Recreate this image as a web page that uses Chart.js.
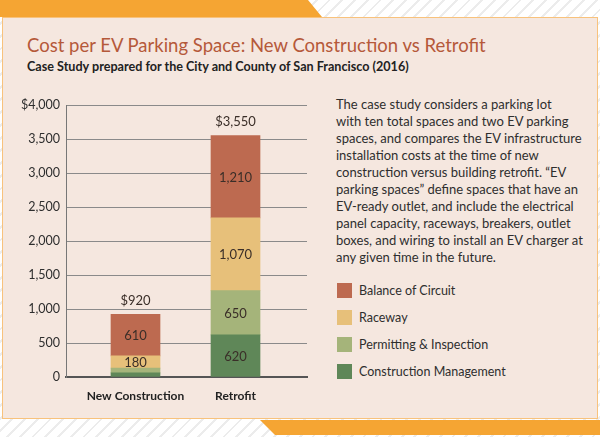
<!DOCTYPE html>
<html>
<head>
<meta charset="utf-8">
<script src="https://cdn.jsdelivr.net/npm/chart.js@4.4.1/dist/chart.umd.min.js"></script>
<style>
  html, body { margin: 0; padding: 0; }
  body { width: 600px; height: 437px; overflow: hidden; font-family: Lato, "Noto Sans", sans-serif; }
  #page {
    position: relative; width: 600px; height: 437px;
    background: repeating-linear-gradient(135deg, #ffffff 0px, #ffffff 7px, #ececec 7px, #ececec 9px);
  }
  .tab-top {
    position: absolute; left: 0; top: 0; width: 322px; height: 17px; background: #f5a533;
    clip-path: polygon(0 0, 308px 0, 322px 100%, 0 100%);
  }
  .tab-bottom {
    position: absolute; left: 260px; top: 420px; width: 340px; height: 15px; background: #f5a533;
    clip-path: polygon(0 0, 100% 0, 100% 100%, 15px 100%);
  }
  .panel {
    position: absolute; left: 2px; top: 17px; width: 596px; height: 402px; box-sizing: border-box;
    background: #f5e7df; border: 1.5px solid #f8c27c;
  }
  .title {
    position: absolute; left: 27px; top: 34px; font-size: 18.5px; color: #b5593a; white-space: nowrap;
  }
  .subtitle {
    position: absolute; left: 27px; top: 59px; font-size: 12.6px; font-weight: bold; color: #222; white-space: nowrap;
  }
  .note {
    position: absolute; left: 336px; top: 96px; font-size: 13px; line-height: 17px; color: #2e2e2e; white-space: nowrap;
  }
  #legend { position: absolute; left: 337px; top: 283px; margin: 0; padding: 0; list-style: none; }
  #legend li { display: flex; align-items: center; height: 15px; margin-bottom: 12px; font-size: 12.5px; color: #2e2e2e; }
  #legend span.box { width: 15px; height: 15px; margin-right: 7px; }
  .chart-box { position: absolute; left: 0; top: 90px; width: 310px; height: 330px; }
</style>
</head>
<body>
<div id="page">
  <div class="tab-top"></div>
  <div class="tab-bottom"></div>
  <div class="panel"></div>
  <div class="title">Cost per EV Parking Space: New Construction vs Retrofit</div>
  <div class="subtitle">Case Study prepared for the City and County of San Francisco (2016)</div>
  <div class="note">
    The case study considers a parking lot<br>
    with ten total spaces and two EV parking<br>
    spaces, and compares the EV infrastructure<br>
    installation costs at the time of new<br>
    construction versus building retrofit. “EV<br>
    parking spaces” define spaces that have an<br>
    EV-ready outlet, and include the electrical<br>
    panel capacity, raceways, breakers, outlet<br>
    boxes, and wiring to install an EV charger at<br>
    any given time in the future.
  </div>
  <ul id="legend"></ul>
  <div class="chart-box"><canvas id="costChart" width="310" height="330"></canvas></div>
</div>

<script>
// data
var categories = ['New Construction', 'Retrofit'];
var constructionMgmt = [60, 620];
var permitting = [70, 650];
var raceway = [180, 1070];
var balanceOfCircuit = [610, 1210];
var yTickMax = 4000;
var yTickStep = 500;

function points(values) {
    return values.map(function (v, i) { return { x: i, y: v }; });
}

function fmt(v) {
    return v.toLocaleString('en-US');
}

// numbers inside the segments and totals on top
var barLabels = {
    id: 'barLabels',
    afterDatasetsDraw: function (chart) {
        var ctx = chart.ctx;
        ctx.save();
        ctx.font = '13px Lato, "Noto Sans", sans-serif';
        ctx.fillStyle = '#3a2e28';
        ctx.textAlign = 'center';
        ctx.textBaseline = 'middle';
        chart.data.datasets.forEach(function (ds, i) {
            var meta = chart.getDatasetMeta(i);
            meta.data.forEach(function (el, j) {
                var v = ds.data[j].y;
                if (v < 100) return;
                ctx.fillText(fmt(v), el.x, (el.y + el.base) / 2 + 1);
            });
        });
        categories.forEach(function (c, j) {
            var total = constructionMgmt[j] + permitting[j] + raceway[j] + balanceOfCircuit[j];
            var el = chart.getDatasetMeta(0).data[j];
            var top = chart.scales.y.getPixelForValue(total);
            ctx.fillText('$' + fmt(total), el.x, top - 14);
        });
        ctx.restore();
    }
};

var ctx = document.getElementById('costChart').getContext('2d');
var costChart = new Chart(ctx, {
    type: 'bar',
    data: {
        datasets: [{
            label: 'Construction Management',
            data: points(constructionMgmt),
            backgroundColor: '#5f8758'
        }, {
            label: 'Permitting & Inspection',
            data: points(permitting),
            backgroundColor: '#a5b47a'
        }, {
            label: 'Raceway',
            data: points(raceway),
            backgroundColor: '#e7c07a'
        }, {
            label: 'Balance of Circuit',
            data: points(balanceOfCircuit),
            backgroundColor: '#bd6a50'
        }]
    },
    options: {
        responsive: false,
        animation: false,
        barThickness: 49,
        layout: { padding: { top: 15, right: 3, left: 0, bottom: 0 } },
        plugins: {
            legend: { display: false },
            tooltip: { enabled: false }
        },
        scales: {
            x: {
                type: 'linear',
                stacked: true,
                offset: false,
                min: -0.695,
                max: 1.715,
                afterBuildTicks: function (scale) {
                    scale.ticks = categories.map(function (c, i) { return { value: i }; });
                },
                afterFit: function (scale) { scale.height = 43; },
                grid: { display: false, drawTicks: false },
                border: { color: '#555', width: 2 },
                ticks: {
                    padding: 12,
                    color: '#222',
                    font: { family: 'Lato, "Noto Sans", sans-serif', size: 12, weight: 'bold' },
                    maxRotation: 0,
                    callback: function (v) { return categories[v]; }
                }
            },
            y: {
                stacked: true,
                min: 0,
                max: yTickMax,
                afterFit: function (scale) { scale.width = 66; },
                grid: { color: '#8a8a8a', drawTicks: false },
                border: { color: '#777', width: 1 },
                ticks: {
                    stepSize: yTickStep,
                    padding: 6,
                    color: '#2e2e2e',
                    font: { family: 'Lato, "Noto Sans", sans-serif', size: 12.5 },
                    callback: function (v) { return v === yTickMax ? '$' + fmt(v) : fmt(v); }
                }
            }
        }
    },
    plugins: [barLabels]
});

// legend list, top segment first
var legendEl = document.getElementById('legend');
var items = Chart.defaults.plugins.legend.labels.generateLabels(costChart).reverse();
items.forEach(function (item) {
    var li = document.createElement('li');
    var box = document.createElement('span');
    box.className = 'box';
    box.style.background = item.fillStyle;
    li.appendChild(box);
    li.appendChild(document.createTextNode(item.text));
    legendEl.appendChild(li);
});
</script>
</body>
</html>
